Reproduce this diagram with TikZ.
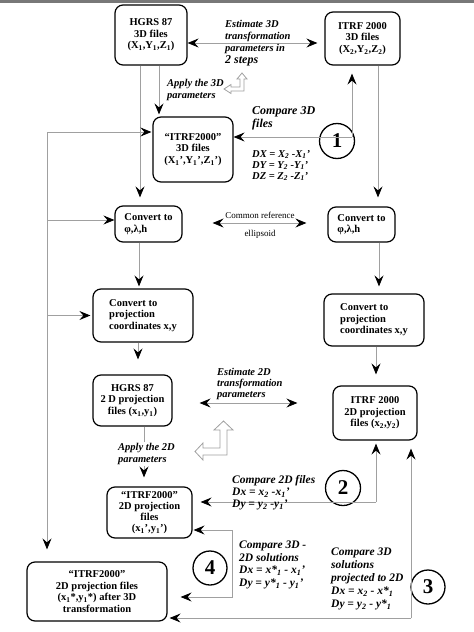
\documentclass[tikz,border=0pt]{standalone}
\usepackage{fontspec}
\setmainfont{Liberation Serif}
\usetikzlibrary{arrows.meta,calc}
\definecolor{lncol}{RGB}{160,160,160}
\definecolor{barcol}{RGB}{120,120,120}
\begin{document}
\begin{tikzpicture}[x=1pt,y=-1pt,
  box/.style={draw=black,line width=1.2pt,rounded corners=8pt,align=center,inner sep=0pt,font=\bfseries\fontsize{10.5}{11.5}\selectfont},
  boxl/.style={box,align=left},
  lbl/.style={font=\bfseries\itshape\fontsize{10.5}{12}\selectfont,align=left,anchor=north west,inner sep=0pt},
  biglbl/.style={lbl,font=\bfseries\itshape\fontsize{12}{13}\selectfont},
  plain/.style={font=\fontsize{9}{10}\selectfont,inner sep=0pt},
  conn/.style={draw=lncol,line width=0.8pt},
  arr/.style={conn,-{Stealth[length=11pt,width=9pt,inset=4pt,black]}},
  darr/.style={conn,{Stealth[length=11pt,width=9pt,inset=4pt,black]}-{Stealth[length=11pt,width=9pt,inset=4pt,black]}},
  num/.style={circle,draw=black,line width=1.3pt,minimum size=35pt,inner sep=0pt,font=\bfseries\fontsize{21}{21}\selectfont},
  hollow/.style={draw=lncol,line width=0.8pt,fill=white}]
\useasboundingbox (0,0) rectangle (474,632);
\fill[barcol] (0,0) rectangle (474,3);

% boxes
\node[box,minimum width=72pt,minimum height=60pt] (A) at (151,35) {HGRS 87\\3D files\\(X\textsubscript{1},Y\textsubscript{1},Z\textsubscript{1})};
\node[box,minimum width=75pt,minimum height=53pt] (B) at (362.5,38.5) {ITRF 2000\\3D files\\(X\textsubscript{2},Y\textsubscript{2},Z\textsubscript{2})};
\node[box,minimum width=80pt,minimum height=65pt] (C) at (193,149.5) {“ITRF2000"\\3D files\\(X\textsubscript{1}',Y\textsubscript{1}',Z\textsubscript{1}')};
\node[boxl,minimum width=67pt,minimum height=36pt] (D) at (148.5,224) {Convert to\\φ,λ,h};
\node[boxl,minimum width=67pt,minimum height=35pt] (E) at (361.5,224.5) {Convert to\\φ,λ,h};
\node[boxl,minimum width=100pt,minimum height=53pt] (F) at (143,315.5) {Convert to\\projection\\coordinates x,y};
\node[boxl,minimum width=100pt,minimum height=52pt] (G) at (374,320) {Convert to\\projection\\coordinates x,y};
\node[box,minimum width=79pt,minimum height=51pt] (H) at (132.5,400.5) {HGRS 87\\2 D projection\\files (x\textsubscript{1},y\textsubscript{1})};
\node[box,minimum width=84pt,minimum height=54pt] (I) at (375,413) {ITRF 2000\\2D projection\\files (x\textsubscript{2},y\textsubscript{2})};
\node[box,minimum width=85pt,minimum height=51pt,font=\bfseries\fontsize{10.5}{11}\selectfont] (J) at (149.5,512.5) {“ITRF2000"\\2D projection\\files\\(x\textsubscript{1}',y\textsubscript{1}')};
\node[box,minimum width=140pt,minimum height=59pt] (K) at (97,591.5) {“ITRF2000"\\2D projection files\\(x\textsubscript{1}*,y\textsubscript{1}*) after 3D\\transformation};

% circled numbers
\node[num] (n1) at (337,141) {1};
\node[num] (n2) at (343,488) {2};
\node[num,minimum size=34pt] (n3) at (428,587) {3};
\node[num,minimum size=34pt] (n4) at (210,568) {4};

% connectors, top part
\draw[darr,shorten >=7pt] (A.east |- 0,43) -- (B.west |- 0,43);
\draw[arr,shorten >=2pt] (A.south -| 159,0) -- (C.north -| 159,0);
\draw[arr,shorten >=8pt] (A.south -| 140,0) -- (D.north -| 140,0);
\draw[arr,shorten >=9pt] (B.south -| 378,0) -- (E.north -| 378,0);
\coordinate (k1) at (352,137);
\draw[arr] (k1) -- (C.east |- k1);
\draw[arr,shorten >=8pt] (k1) -- (B.south -| k1);

% left bus
\coordinate (L0) at (47,132);
\draw[arr,shorten >=1pt] (L0) -- (C.west |- L0);
\draw[arr,shorten >=12pt] (L0) -- (K.north -| L0);
\draw[arr] (L0 |- 0,220) -- (D.west |- 0,220);
\draw[arr,shorten >=2pt] (L0 |- F.west) -- (F.west);

% middle part
\draw[arr,shorten >=2pt] (D.south -| 139,0) -- (F.north -| 139,0);
\draw[arr,shorten >=7pt] (E.south -| 379,0) -- (G.north -| 379,0);
\draw[darr,shorten <=30pt,shorten >=21pt] (D.east |- 0,223) -- (E.west |- 0,223);
\draw[arr,shorten >=15pt] (F.south -| 138,0) -- (H.north -| 138,0);
\draw[arr,shorten >=11pt] (G.south -| 376,0) -- (I.north -| 376,0);
\draw[darr,shorten <=27pt,shorten >=35pt] (H.east |- 0,403) -- (I.west |- 0,403);
\draw[arr,shorten >=9pt] (H.south -| 144,0) -- (J.north -| 144,0);

% bottom part
\coordinate (c2) at (376,502);
\draw[arr,shorten >=3pt] (c2) -- (I.south -| c2);
\draw[arr,shorten >=8pt] (c2) -- (J.east |- c2);
\coordinate (c3) at (411,618);
\draw[arr,shorten >=8pt] (c3) -- (I.south -| c3);
\draw[arr,shorten >=2pt] (c3) -- (K.east |- c3);
\coordinate (c4a) at (232,530);
\coordinate (c4b) at (232,597);
\draw[darr,shorten <=1pt,shorten >=13pt] (J.east |- c4a) -- (c4a) -- (c4b) -- (K.east |- c4b);

% hollow arrows
\path[hollow] (224,89) -- (231,84.5) -- (231,87) -- (240,87) -- (240,79) -- (237,79) -- (242,73) -- (247,79) -- (244,79) -- (244,91) -- (231,91) -- (231,93.5) -- cycle;
\path[hollow] (195,451.5) -- (203,443) -- (203,448) -- (220,448) -- (220,430) -- (214,430) -- (223.5,421) -- (233,430) -- (227,430) -- (227,455) -- (203,455) -- (203,460) -- cycle;

% labels
\node[lbl] (t1) at (225,20) {Estimate 3D\\transformation\\parameters in\\{\fontsize{12}{12}\selectfont 2 steps}};
\node[lbl] (t2) at (167,79) {Apply the 3D\\parameters};
\node[biglbl] (t3) at (252,106) {Compare 3D\\files};
\node[lbl,font=\bfseries\itshape\fontsize{10.5}{11}\selectfont] (t4) at (252,150) {DX = X\textsubscript{2} -X\textsubscript{1}'\\DY = Y\textsubscript{2} -Y\textsubscript{1}'\\DZ = Z\textsubscript{2} -Z\textsubscript{1}'};
\node[plain] (t5) at (260,215) {Common reference};
\node[plain] (t6) at (260,234) {ellipsoid};
\node[lbl,font=\bfseries\itshape\fontsize{10.5}{11}\selectfont] (t7) at (217,368) {Estimate 2D\\transformation\\parameters};
\node[lbl,fill=white,inner sep=1pt] (t8) at (117,442) {Apply the 2D\\parameters};
\node[biglbl,font=\bfseries\itshape\fontsize{11.5}{12}\selectfont] (t9) at (232,475) {Compare 2D files\\Dx = x\textsubscript{2} -x\textsubscript{1}'\\Dy = y\textsubscript{2} -y\textsubscript{1}'};
\node[biglbl,font=\bfseries\itshape\fontsize{11.5}{12.5}\selectfont] (t10) at (239,541) {Compare 3D -\\2D solutions\\Dx = x*\textsubscript{1} - x\textsubscript{1}'\\Dy = y*\textsubscript{1} - y\textsubscript{1}'};
\node[biglbl,font=\bfseries\itshape\fontsize{11.5}{13}\selectfont] (t11) at (331,548) {Compare 3D\\solutions\\projected to 2D\\Dx = x\textsubscript{2} - x*\textsubscript{1}\\Dy = y\textsubscript{2} - y*\textsubscript{1}};
\end{tikzpicture}
\end{document}
